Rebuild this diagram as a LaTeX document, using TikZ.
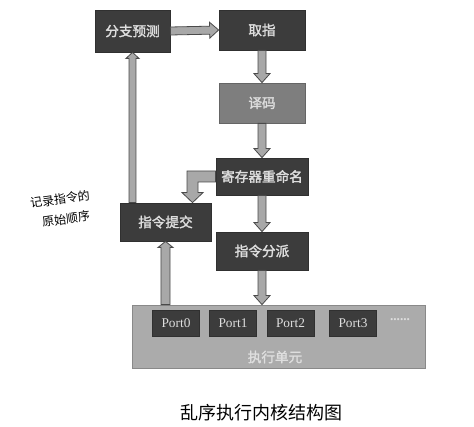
\documentclass[tikz,border=0pt]{standalone}
\usepackage{fontspec}
\setmainfont{Liberation Serif}
\newfontfamily\cjk[AutoFakeBold=2]{Noto Sans CJK SC}
\usepackage{xcolor}
\usepackage{tikz}
\usetikzlibrary{positioning, calc}
\definecolor{stagedark}{HTML}{3C3C3C}
\definecolor{stagemid}{HTML}{7E7E7E}
\definecolor{unitgray}{HTML}{ABABAB}
\definecolor{pipefill}{HTML}{A8A8A8}
\definecolor{pipeline}{HTML}{4A4A4A}
\definecolor{labelgray}{HTML}{DEDEDE}

\begin{document}
\begin{tikzpicture}[
    x=0.75pt, y=-0.75pt,
    stage/.style={rectangle, draw=#1!80!black, fill=#1, inner sep=0pt, line width=0.6pt,
        text=labelgray, font=\cjk\bfseries\fontsize{10.2}{12}\selectfont},
    port/.style={rectangle, draw=stagedark!80!black, fill=stagedark, inner sep=0pt,
        minimum width=35.6pt, minimum height=19.5pt, text=labelgray, font=\fontsize{10}{12}\selectfont},
    pipe/.style n args={3}{draw=pipeline, fill=pipefill, line width=0.6pt, line join=miter,
        to path={($(\tikztostart)!#1!90:(\tikztotarget)$)
            -- ($(\tikztotarget)!#3!(\tikztostart)!#1!90:(\tikztotarget)$)
            -- ($(\tikztotarget)!#3!(\tikztostart)!#2!90:(\tikztotarget)$)
            -- (\tikztotarget)
            -- ($(\tikztotarget)!#3!(\tikztostart)!#2!-90:(\tikztotarget)$)
            -- ($(\tikztotarget)!#3!(\tikztostart)!#1!-90:(\tikztotarget)$)
            -- ($(\tikztostart)!#1!-90:(\tikztotarget)$) -- cycle}},
    flow/.style={pipe={3pt}{6pt}{6.75pt}},
    note/.style={font=\cjk\fontsize{9}{11}\selectfont, inner sep=1pt, rotate=8}
]
\useasboundingbox (0,0) rectangle (474,427);

% Front end
\node[stage=stagedark, minimum width=56.25pt, minimum height=31.5pt] (bp) at (132.5,31) {分支预测};
\node[stage=stagedark, minimum width=64.5pt, minimum height=30pt] (fetch) at (262,30) {取指};
\node[stage=stagemid, minimum width=64.5pt, minimum height=30pt] (decode) at (262,103) {译码};
\node[stage=stagedark, minimum width=69pt, minimum height=27.75pt] (rename) at (262,176.5) {寄存器重命名};

% Back end
\node[stage=stagedark, minimum width=68.25pt, minimum height=28.5pt] (commit) at (165.5,222) {指令提交};
\node[stage=stagedark, minimum width=69pt, minimum height=28.5pt] (dispatch) at (262,251) {指令分派};

% Execution unit
\node[rectangle, draw=unitgray!80!black, fill=unitgray, line width=0.6pt, inner sep=0pt,
    minimum width=219.75pt, minimum height=47.25pt] (exec) at (278.5,336.5) {};
\node[port] (p0) at (176,323) {Port0};
\node[port] (p1) at (233,323) {Port1};
\node[port] (p2) at (290.5,323) {Port2};
\node[port] (p3) at (353,323) {Port3};
\node[text=labelgray, font=\bfseries\fontsize{10}{10}\selectfont] (more) at (400,320) {......};
\node[text=labelgray, font=\cjk\bfseries\fontsize{10.2}{12}\selectfont] (unit) at (275,357) {执行单元};

% Connectors
\coordinate (ein) at (dispatch.south |- exec.north);
\coordinate (cup) at (bp.south |- commit.north);
\coordinate (elb) at ($(commit.north)+(27,0)$);
\draw[flow] (bp.east) to (fetch.west);
\draw[flow] (fetch.south) to (decode.north);
\draw[flow] (decode.south) to (rename.north);
\draw[flow] (rename.south) to (dispatch.north);
\draw[flow] (dispatch.south) to (ein);
\draw[pipe={3.4pt}{5.6pt}{4.5pt}] (commit.south |- exec.north) to (commit.south);
\draw[pipe={2.6pt}{4.9pt}{4.5pt}] (cup) to (bp.south);
\draw[draw=pipeline, fill=pipefill, line width=0.6pt] ($(rename.west)+(0,-5.5)$) -| ($(elb)+(-5.5,-10)$)
    -- ++(-5,0) -- (elb) -- ($(elb)+(10.5,-10)$) -- ++(-5,0) |- ($(rename.west)+(0,5.5)$) -- cycle;

% Notes
\node[note] (memoa) at (60,199) {记录指令的};
\node[note] (memob) at (66,219) {原始顺序};
\node[font=\cjk\fontsize{13.5}{16}\selectfont] (caption) at (261,413) {乱序执行内核结构图};

\end{tikzpicture}
\end{document}
